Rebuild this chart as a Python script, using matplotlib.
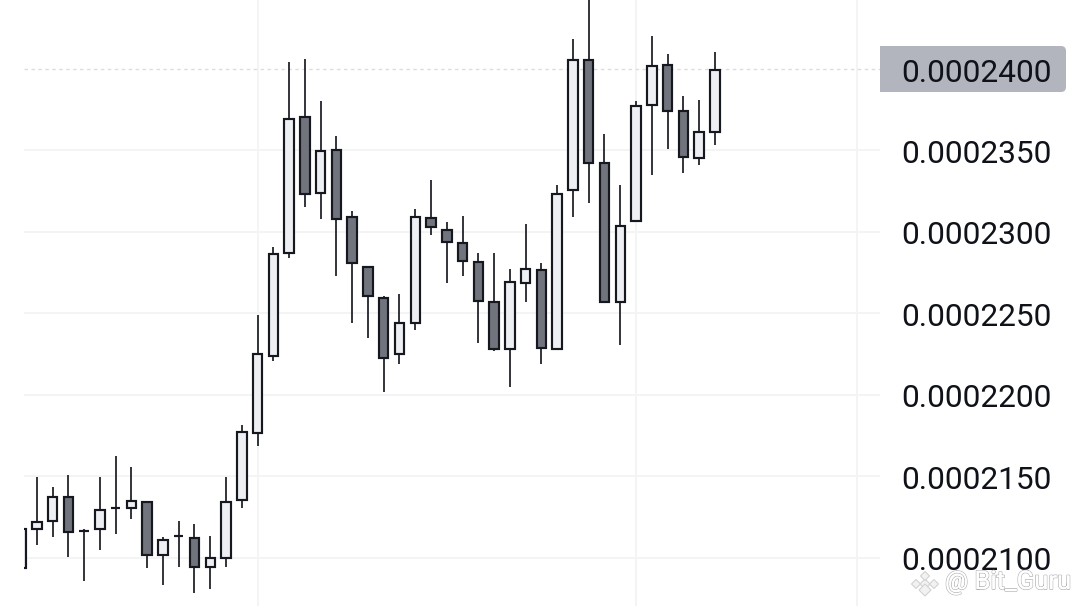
import matplotlib
matplotlib.use('Agg')
import matplotlib.pyplot as plt
import matplotlib.patheffects as pe
from matplotlib.patches import FancyBboxPatch, Rectangle, Polygon
from matplotlib.transforms import IdentityTransform, ScaledTranslation

plt.rcParams['font.family'] = ['Roboto', 'DejaVu Sans']

# prices in units of 1e-7
opens = [2093.9, 2117.8, 2122.5, 2137.6, 2116.6, 2117.8, 2130.7, 2130.7, 2134.5, 2101.8,
         2113.5, 2112.3, 2094.5, 2100.0, 2135.6, 2176.5, 2223.9, 2286.9, 2370.7, 2323.7,
         2350.5, 2309.4, 2278.7, 2259.7, 2225.2, 2244.0, 2308.8, 2301.4, 2293.4, 2281.8,
         2257.2, 2228.0, 2268.5, 2276.7, 2228.2, 2325.8, 2405.5, 2342.3, 2256.9, 2306.7,
         2377.9, 2402.5, 2374.4, 2345.6, 2361.3]
closes = [2117.8, 2122.3, 2137.6, 2116.0, 2116.6, 2129.6, 2130.7, 2135.2, 2101.8, 2111.0,
          2113.5, 2094.5, 2100.0, 2134.5, 2177.5, 2225.3, 2286.7, 2369.5, 2323.1, 2349.9,
          2307.8, 2280.8, 2260.6, 2222.5, 2244.4, 2309.4, 2302.9, 2293.9, 2282.2, 2257.5,
          2228.0, 2269.5, 2277.5, 2228.8, 2323.5, 2405.5, 2342.1, 2257.1, 2303.9, 2377.5,
          2401.8, 2374.2, 2346.0, 2361.5, 2399.6]
highs = [2117.8, 2149.7, 2143.4, 2150.7, 2117.6, 2149.7, 2162.6, 2155.8, 2134.5, 2112.7,
         2122.7, 2120.9, 2113.5, 2149.7, 2181.6, 2249.1, 2290.8, 2404.1, 2406.0, 2380.4,
         2358.9, 2312.7, 2278.7, 2260.6, 2262.0, 2314.1, 2331.9, 2306.1, 2309.8, 2287.1,
         2287.1, 2277.3, 2304.9, 2280.8, 2328.8, 2418.4, 2448.5, 2360.1, 2328.8, 2380.4,
         2420.2, 2409.2, 2383.4, 2381.0, 2410.4]
lows = [2093.9, 2108.0, 2113.1, 2100.8, 2085.9, 2104.9, 2114.7, 2124.1, 2094.0, 2083.4,
        2094.7, 2078.7, 2081.2, 2094.7, 2130.9, 2168.9, 2221.0, 2284.2, 2315.5, 2308.2,
        2273.2, 2244.4, 2235.2, 2202.0, 2219.2, 2240.1, 2298.3, 2268.9, 2273.2, 2232.1,
        2227.2, 2205.1, 2257.2, 2219.2, 2228.2, 2309.4, 2318.0, 2257.1, 2230.9, 2306.7,
        2335.2, 2351.1, 2336.4, 2341.3, 2353.6]

price_ticks = [2100, 2150, 2200, 2250, 2300, 2350, 2400]
price_labels = ['0.0002100', '0.0002150', '0.0002200', '0.0002250', '0.0002300', '0.0002350', '0.0002400']
time_ticks = [15, 39, 53]

W, H = 1079, 606
up_color = '#eeeff2'
down_color = '#71747c'
edge_color = '#15181f'
wick_color = '#2a2c33'
grid_color = '#f3f4f4'

fig = plt.figure(figsize=(W / 100, H / 100), dpi=100, facecolor='white')
ax = fig.add_axes([24 / W, 0, (880 - 24) / W, 1])

# pixel position of the candles: 21 + 15.77 * i
ax.set_xlim((24 - 21) / 15.77, (880 - 21) / 15.77)
ax.set_ylim(2400 - (606 - 69) * 0.6135, 2400 + 69 * 0.6135)

xs = list(range(len(opens)))
ax.vlines(xs, lows, highs, color=wick_color, lw=1.35, zorder=2)
for x, o, c in zip(xs, opens, closes):
    fill = up_color if c >= o else down_color
    ax.bar(x, abs(c - o), bottom=min(o, c), width=0.6, color=fill,
           edgecolor=edge_color, linewidth=1.55, zorder=3)

ax.set_xticks(time_ticks)
ax.set_yticks(price_ticks)
ax.set_yticklabels(price_labels)
ax.yaxis.tick_right()
ax.tick_params(axis='y', length=0, pad=15.2, labelsize=22.8, labelcolor='#0f1218')
ax.tick_params(axis='x', length=0, labelbottom=False)
for label in ax.get_yticklabels():
    label.set_transform(label.get_transform() + ScaledTranslation(0, -1 / 100, fig.dpi_scale_trans))
ax.grid(True, color=grid_color, lw=1.4)
ax.set_axisbelow(True)
last_grid = ax.get_ygridlines()[-1]
last_grid.set_color('#dcdde0')
last_grid.set_linewidth(1.0)
last_grid.set_linestyle((0, (2.5, 2.5)))
for s in ax.spines.values():
    s.set_visible(False)
ax.patch.set_visible(False)

# last price tag, square on the left, rounded on the right
tag = dict(facecolor='#b2b5be', edgecolor='none', transform=IdentityTransform(), zorder=-1)
fig.add_artist(FancyBboxPatch((886, H - 89), 177, 40, boxstyle='round,pad=3,rounding_size=5', **tag))
fig.add_artist(Rectangle((880, H - 92), 20, 46, **tag))

# watermark
logo_cx, logo_cy = 925, H - 584
for dx, dy, r in [(0, 0, 5), (-9, 0, 4.5), (9, 0, 4.5), (0, 8, 4.5), (0, -6, 6)]:
    cx, cy = logo_cx + dx, logo_cy + dy
    fig.add_artist(Polygon([(cx - r, cy), (cx, cy + r), (cx + r, cy), (cx, cy - r)],
                           facecolor='#f2f2f2', edgecolor='#d2d2d2', lw=0.8,
                           transform=IdentityTransform(), zorder=5))
fig.text(945 / W, 1 - 582 / H, '@ Bit_Guru', fontsize=18.5, color='white', ha='left', va='center',
         zorder=6, path_effects=[pe.withStroke(linewidth=1.1, foreground='#b4b4b8'),
                                 pe.Normal()])

fig.savefig('out.png', dpi=100)
